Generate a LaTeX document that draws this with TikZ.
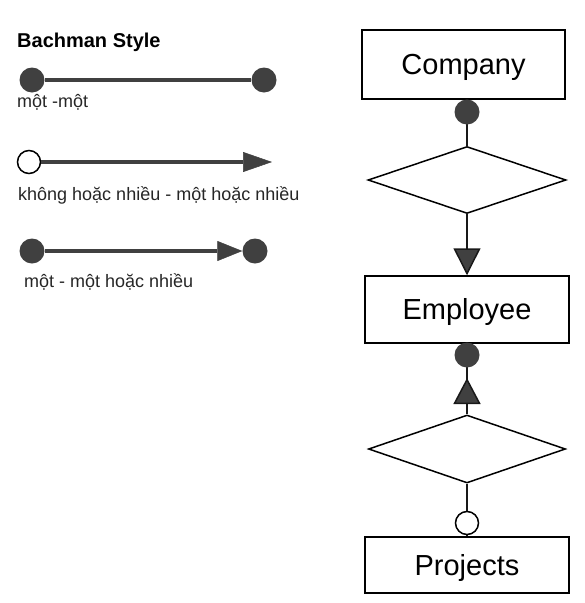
\documentclass[tikz,border=0pt]{standalone}
\usepackage{fontspec}
\setmainfont{Liberation Sans}
\usetikzlibrary{shapes.geometric,arrows.meta}
\definecolor{dk}{HTML}{404040}
\begin{document}
\begin{tikzpicture}[x=1pt,y=-1pt,
 entity/.style={draw=black, line width=1.5pt, fill=white, inner sep=0pt, font=\fontsize{29}{30}\selectfont, text height=20pt, text depth=0pt},
 rel/.style={diamond, draw=black, line width=1.5pt, fill=white, inner sep=0pt},
 dotf/.style={circle, fill=dk, inner sep=0pt, minimum size=25pt},
 doto/.style={circle, draw=black, fill=white, line width=1.5pt, inner sep=0pt, minimum size=23pt},
 conn/.style={draw=black!90, line width=2pt},
 leg/.style={draw=dk, line width=4pt},
 lab/.style={anchor=base west, inner sep=0pt, font=\fontsize{18}{20}\selectfont, text=black!85}]
\path[use as bounding box] (0,0) rectangle (585,603);
% legend
\node[font=\bfseries\fontsize{20}{22}\selectfont, anchor=base west, inner sep=0pt] (title) at (17,47) {Bachman Style};
\node[dotf] (l1a) at (32,80) {};
\node[dotf] (l1b) at (264,80) {};
\draw[leg] (l1a) -- (l1b);
\node[lab] (t1) at (17,107) {một -một};
\node[doto] (l2a) at (29,162) {};
\coordinate (l2b) at (272,162);
\draw[leg, -{Triangle[length=29pt,width=20pt,line width=0.5pt]}] (l2a) -- (l2b);
\node[lab] (t2) at (18,200) {không hoặc nhiều - một hoặc nhiều};
\node[dotf] (l3a) at (32,251) {};
\node[dotf] (l3b) at (255,251) {};
\draw[leg, -{Triangle[length=25pt,width=20pt,line width=0.5pt]}] (l3a) -- (l3b.west);
\node[lab] (t3) at (24,287) {một - một hoặc nhiều};
% diagram
\node[entity, minimum width=203pt, minimum height=69pt] (company) at (463.5,64.5) {Company};
\node[entity, minimum width=204pt, minimum height=67pt] (employee) at (467,309.5) {Employee};
\node[entity, minimum width=204pt, minimum height=56pt] (projects) at (467,565) {Projects};
\node[rel, minimum width=198pt, minimum height=67pt] (r1) at (467,180) {};
\node[rel, minimum width=197pt, minimum height=68pt] (r2) at (467,449) {};
\draw[conn] (r1.north |- company.south) -- (r1.north);
\node[dotf] (d1) at (467,112) {};
\draw[conn, -{Triangle[length=27pt,width=27pt,fill=dk,line width=1.5pt]}] (r1.south) -- (r1.south |- employee.north);
\draw[conn] (employee.south) -- (r2.north);
\coordinate (tip2) at (467,378);
\draw[conn, -{Triangle[length=26pt,width=27pt,fill=dk,line width=1.5pt]}] (r2.north) -- (tip2);
\node[dotf] (d2) at (467,355) {};
\draw[conn] (r2.south) -- (projects.north);
\node[doto] (o1) at (467,523) {};
\end{tikzpicture}
\end{document}
